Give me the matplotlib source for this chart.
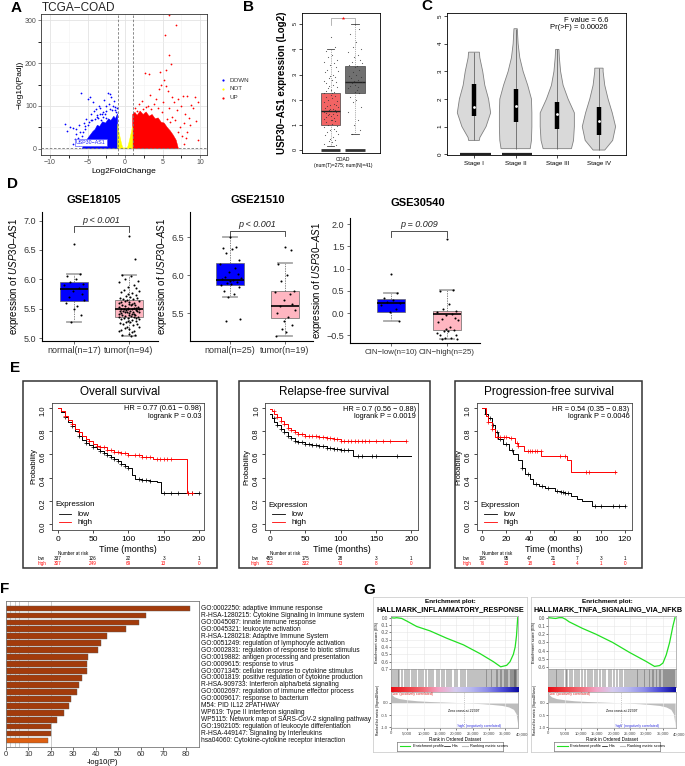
import numpy as np
import matplotlib
matplotlib.use("Agg")
import matplotlib.pyplot as plt
from matplotlib.patches import Rectangle
from matplotlib.colors import LinearSegmentedColormap
from matplotlib.transforms import blended_transform_factory as blend

plt.rcParams['font.family'] = ['Liberation Sans', 'DejaVu Sans']
plt.rcParams['axes.linewidth'] = 0.6
plt.rcParams['xtick.major.width'] = 0.5
plt.rcParams['ytick.major.width'] = 0.5
plt.rcParams['mathtext.fontset'] = 'custom'
plt.rcParams['mathtext.it'] = 'Liberation Sans:italic'
plt.rcParams['mathtext.rm'] = 'Liberation Sans'

# ======================= DATA =======================
# --- A: volcano plot (TCGA-COAD) ---
VOLC_DOWN_X = [-8.0,-7.7,-7.3,-7.0,-6.9,-6.6,-6.5,-6.3,-6.2,-6.0,-5.9,-5.8,-5.7,-5.5,-5.3,-5.2,-5.0,-4.8,-4.7,-4.5,
               -4.3,-4.1,-4.0,-3.9,-3.7,-3.5,-3.3,-3.2,-3.0,-2.9,-2.8,-2.7,-2.5,-2.5,-2.3,-2.2,-2.0,-2.0,-1.9,-1.8,
               -1.6,-1.5,-1.3,-1.2,-1.1,-5.9,-6.1,-5.6,-4.9,-4.4,-3.6,-3.4,-2.6,-1.4,-6.7,-5.4,-4.6,-3.8,-3.1,-2.1]
VOLC_DOWN_Y = [57,42,50,48,10,45,35,25,55,38,130,30,20,60,45,70,115,62,120,80,
               108,88,70,92,78,100,95,66,85,75,114,82,100,72,130,68,127,92,120,90,
               100,112,90,85,95,18,8,40,55,68,72,82,88,98,22,52,66,74,80,104]
VOLC_DOWN_CORE_X = [-1.0,-1.0,-1.3,-1.5,-1.9,-2.2,-2.6,-3.0,-3.4,-3.7,-4.0,-4.3,-4.6,-4.9,-5.2,-5.5,-5.7]
VOLC_DOWN_CORE_Y = [0,82,70,76,66,70,60,63,52,55,45,40,33,26,18,10,0]
VOLC_UP_X = [5.9,6.8,5.3,5.8,6.1,5.5,4.7,2.6,3.2,5.2,4.8,5.4,4.5,5.7,3.3,8.3,7.7,9.3,9.7,6.2,
             7.1,4.1,2.2,1.9,3.8,5.0,6.5,8.8,9.0,7.4,8.0,8.5,9.5,7.9,9.7,8.2,7.3,6.7,7.6,8.7,
             2.8,3.5,4.4,5.9,6.9,1.6,2.4,7.8,6.3,5.6,4.9,3.0,1.3,7.0,8.1,6.0]
VOLC_UP_Y = [312,288,265,220,197,185,180,178,175,160,150,147,140,135,125,122,122,120,110,120,
             115,115,112,105,105,108,110,102,95,100,82,72,65,60,20,38,50,68,30,55,
             98,92,95,95,90,88,92,12,75,70,85,100,95,40,25,62]
VOLC_UP_CORE_X = [1.0,1.0,1.3,1.6,2.0,2.4,2.8,3.2,3.6,4.0,4.4,4.8,5.2,5.6,6.0,6.4,6.8,7.1]
VOLC_UP_CORE_Y = [0,80,85,78,88,80,86,76,80,70,72,62,60,50,42,32,20,0]
VOLC_NOT_CORE_X = [-0.98,-0.98,-0.85,-0.65,-0.45,-0.3,0.3,0.45,0.65,0.85,0.98,0.98]
VOLC_NOT_CORE_Y = [0,58,42,25,10,2,2,10,25,40,52,0]
VOLC_FC_CUT = 1.0
VOLC_P_CUT = 1.3
VOLC_XTICKS = [-10, -5, 0, 5, 10]
VOLC_YTICKS = [0, 100, 200, 300]
VOLC_GENE = ("USP30\u2212AS1", -4.55, 15)
VOLC_LEGEND = ["DOWN", "NOT", "UP"]

# --- B: GEPIA box plot ---
B_GROUPS = ["Tumor", "Normal"]
B_BOX_T = [0.17, 1.00, 1.55, 2.25, 4.00]   # whislo, q1, med, q3, whishi
B_BOX_N = [0.65, 2.25, 2.72, 3.35, 5.00]
B_PTS_T = [4.5,4.1,3.95,3.8,3.7,3.6,3.5,3.45,3.4,3.3,3.2,3.15,3.1,3.0,2.95,2.9,2.85,2.8,2.75,2.7,
           2.65,2.6,2.55,2.5,2.45,2.4,2.35,2.3,2.28,2.25,2.2,2.15,2.1,2.05,2.0,1.95,1.9,1.85,1.8,1.78,
           1.75,1.7,1.68,1.65,1.62,1.6,1.58,1.55,1.52,1.5,1.48,1.45,1.42,1.4,1.38,1.35,1.3,1.28,1.25,1.2,
           1.18,1.15,1.1,1.05,1.0,0.95,0.9,0.85,0.8,0.75,0.7,0.65,0.6,0.5,0.45,0.4,0.35,0.3,0.25,0.2]
B_PTS_N = [5.0,4.8,4.6,4.3,4.1,4.0,3.9,3.8,3.7,3.6,3.5,3.45,3.4,3.35,3.3,3.2,3.1,3.0,2.95,2.9,
           2.85,2.8,2.75,2.7,2.65,2.6,2.55,2.5,2.45,2.4,2.3,2.25,2.1,2.0,1.9,1.7,1.5,1.2,1.0,0.8,0.65]
B_SIG_Y = 5.24
B_XLABEL = "COAD\n(num(T)=275; num(N)=41)"

# --- C: violin by stage ---
C_STAGES = ["Stage I", "Stage II", "Stage III", "Stage IV"]
C_VIOL_Y = [[0.5,0.6,1.0,1.5,2.0,2.5,3.0,3.5,3.7],
            [0.2,0.5,1.0,1.5,2.0,2.5,3.0,3.5,4.0,4.55],
            [0.2,0.5,1.0,1.5,2.0,2.5,3.0,3.5,3.8],
            [0.15,0.5,1.0,1.5,2.0,2.5,3.0,3.12]]
C_VIOL_W = [[0.13,0.14,0.29,0.40,0.35,0.26,0.21,0.14,0.13],
            [0.35,0.38,0.39,0.39,0.38,0.29,0.18,0.10,0.06,0.04],
            [0.34,0.39,0.41,0.41,0.26,0.14,0.08,0.05,0.04],
            [0.14,0.33,0.40,0.32,0.22,0.14,0.10,0.10]]
C_Q1 = [1.40, 1.15, 0.90, 0.70]
C_MED = [1.70, 1.75, 1.45, 1.20]
C_Q3 = [2.55, 2.35, 1.90, 1.70]
C_ZERO_STAGES = [1, 2]
C_STATS = ["F value = 6.6", "Pr(>F) = 0.00026"]

# --- D: GEO box plots ---
D_TITLES = ["GSE18105", "GSE21510", "GSE30540"]
D_XLABELS = [["normal(n=17)", "tumor(n=94)"], ["nomal(n=25)", "tumor(n=19)"],
             ["CIN\u2212low(n=10)", "CIN\u2212high(n=25)"]]
D_BOXES = [[[5.28, 5.63, 5.83, 5.95, 6.10], [5.04, 5.36, 5.50, 5.65, 6.07]],
           [[5.71, 5.88, 5.94, 6.16, 6.51], [5.20, 5.44, 5.60, 5.80, 6.16]],
           [[-0.17, 0.02, 0.22, 0.31, 0.46], [-0.58, -0.37, -0.02, 0.05, 0.52]]]
D1_NORMAL = [6.6,6.1,6.05,6.0,5.95,5.92,5.9,5.85,5.8,5.75,5.7,5.65,5.6,5.55,5.5,5.4,5.28]
D1_TUMOR = [6.73,6.35,6.07,6.05,6.0,5.98,5.95,5.9,5.88,5.85,5.82,5.8,5.79,5.77,5.75,5.74,5.72,5.7,5.69,5.68,
            5.67,5.66,5.65,5.64,5.63,5.62,5.61,5.6,5.6,5.59,5.58,5.57,5.56,5.56,5.55,5.54,5.53,5.52,5.52,5.51,
            5.5,5.5,5.5,5.49,5.49,5.48,5.48,5.47,5.47,5.46,5.46,5.45,5.45,5.44,5.44,5.43,5.43,5.42,5.42,5.41,
            5.4,5.4,5.39,5.38,5.38,5.37,5.36,5.36,5.35,5.35,5.34,5.33,5.32,5.31,5.3,5.29,5.28,5.27,5.26,5.25,
            5.24,5.22,5.2,5.19,5.18,5.16,5.15,5.13,5.12,5.1,5.08,5.06,5.05,5.04]
D2_NORMAL = [6.51,6.38,6.36,6.35,6.3,6.2,6.15,6.1,6.05,6.02,5.98,5.96,5.95,5.94,5.93,5.92,5.9,5.89,5.88,5.85,
             5.8,5.75,5.71,5.43,5.4]
D2_TUMOR = [6.37,6.33,6.15,6.0,5.93,5.8,5.78,5.75,5.68,5.62,5.6,5.55,5.5,5.45,5.4,5.35,5.3,5.25,5.2]
D3_LOW = [0.89,0.46,0.35,0.3,0.25,0.22,0.18,0.1,0.02,-0.17]
D3_HIGH = [1.67,0.52,0.5,0.2,0.1,0.05,0.02,-0.02,-0.05,-0.1,-0.12,-0.15,-0.2,-0.3,-0.35,-0.37,-0.4,-0.4,
           -0.45,-0.5,-0.5,-0.55,-0.55,-0.58,-0.58]
D_YTICKS = [[5.0, 5.5, 6.0, 6.5, 7.0], [5.5, 6.0, 6.5], [-0.5, 0.0, 0.5, 1.0, 1.5, 2.0]]
D_BRACKET_Y = [6.90, 6.59, 1.85]
D_PTEXT = ["p < 0.001", "p < 0.001", "p = 0.009"]

# --- E: Kaplan-Meier ---
OS_LOW_T = [0,5,10,15,20,25,30,35,40,45,50,55,60,65,70,75,80,85,90,95,100,105,110,120,130,140,146,200]
OS_LOW_S = [1.0,0.96,0.92,0.88,0.84,0.80,0.76,0.72,0.70,0.68,0.66,0.645,0.63,0.61,0.59,0.58,0.56,0.54,0.52,0.50,
            0.48,0.42,0.39,0.38,0.37,0.36,0.27,0.27]
OS_HIGH_T = [0,5,10,15,20,25,30,35,40,45,50,55,60,70,80,90,100,110,120,130,135,183,192]
OS_HIGH_S = [1.0,0.97,0.93,0.89,0.86,0.82,0.79,0.76,0.73,0.71,0.69,0.67,0.66,0.64,0.62,0.61,0.59,0.59,0.58,0.58,
             0.56,0.27,0.27]
OS_CENS_LOW = [10,20,30,40,50,60,65,70,75,80,85,90,95,100,115,120,125,130,150,160,170,185,190,200]
OS_CENS_HIGH = [10,20,30,45,55,60,65,70,75,80,85,90,95,100,110,115,120,125,130,140,145,150,155,160,185,190]
RFS_LOW_T = [0,3,6,10,15,20,25,30,35,40,50,60,70,80,90,100,110,118,200]
RFS_LOW_S = [0.95,0.91,0.88,0.85,0.82,0.79,0.76,0.74,0.72,0.71,0.69,0.68,0.67,0.66,0.65,0.64,0.64,0.59,0.59]
RFS_HIGH_T = [0,3,6,10,15,20,25,30,35,40,50,60,70,80,90,100,120,150,193]
RFS_HIGH_S = [0.99,0.97,0.95,0.92,0.89,0.86,0.83,0.81,0.79,0.78,0.76,0.755,0.75,0.74,0.73,0.72,0.72,0.72,0.72]
RFS_CENS_LOW = [5,10,15,20,25,30,35,40,45,50,55,60,65,70,75,80,85,90,95,100,105,110,125,130,145,150,180]
RFS_CENS_HIGH = [5,10,15,20,25,30,35,40,45,50,55,60,65,70,75,80,85,90,95,100,105,110,115,120,125,130,
                 135,140,150,160,170,193]
PFS_LOW_T = [0,2,5,8,11,13.5,17,22,26,30,33,36,40,43,48,53,61,66,70,75,80,84,92,120]
PFS_LOW_S = [1.0,0.95,0.91,0.85,0.79,0.73,0.69,0.64,0.60,0.55,0.48,0.43,0.39,0.35,0.33,0.31,0.29,0.28,0.27,
             0.24,0.22,0.20,0.16,0.16]
PFS_HIGH_T = [0,3,5,8,11,22,27.6,30,35,49.6,71,75,112.7]
PFS_HIGH_S = [1.0,0.93,0.88,0.82,0.75,0.74,0.70,0.67,0.63,0.59,0.55,0.45,0.45]
PFS_CENS_LOW = [3,6,9,12,15,20,25,33,38,45,50,55,63,66,68,70,72,95,100,110,115,120]
PFS_CENS_HIGH = [5,8,12,15,18,20,24,29,30,38,40,42,44,46,49,65,70,87,90,112]
E_TITLES = ["Overall survival", "Relapse-free survival", "Progression-free survival"]
E_HR = ["HR = 0.77 (0.61 \u2212 0.98)", "HR = 0.7 (0.56 \u2212 0.88)", "HR = 0.54 (0.35 \u2212 0.83)"]
E_P = ["logrank P = 0.03", "logrank P = 0.0019", "logrank P = 0.0046"]
E_XTICKS = [[0, 50, 100, 150, 200], [0, 50, 100, 150, 200], [0, 20, 40, 60, 80, 100, 120]]
E_RISK_LOW = [[337, 126, 22, 3, 1], [455, 175, 28, 3, 1], [195, 95, 47, 21, 7, 3, 1]]
E_RISK_HIGH = [[307, 249, 69, 13, 0], [712, 332, 73, 8, 0], [76, 33, 18, 11, 4, 1, 0]]

# --- F: enrichment bar chart ---
F_TERMS = ["GO:0002250: adaptive immune response",
           "R-HSA-1280215: Cytokine Signaling in Immune system",
           "GO:0045087: innate immune response",
           "GO:0045321: leukocyte activation",
           "R-HSA-1280218: Adaptive Immune System",
           "GO:0051249: regulation of lymphocyte activation",
           "GO:0002831: regulation of response to biotic stimulus",
           "GO:0019882: antigen processing and presentation",
           "GO:0009615: response to virus",
           "GO:0071345: cellular response to cytokine stimulus",
           "GO:0001819: positive regulation of cytokine production",
           "R-HSA-909733: Interferon alpha/beta signaling",
           "GO:0002697: regulation of immune effector process",
           "GO:0009617: response to bacterium",
           "M54: PID IL12 2PATHWAY",
           "WP619: Type II interferon signaling",
           "WP5115: Network map of SARS-CoV-2 signaling pathway",
           "GO:1902105: regulation of leukocyte differentiation",
           "R-HSA-449147: Signaling by Interleukins",
           "hsa04060: Cytokine-cytokine receptor interaction"]
F_VALUES = [82.0, 62.3, 59.3, 53.6, 45.0, 42.5, 40.8, 36.7, 36.2, 36.0,
            34.0, 32.5, 31.7, 29.0, 28.3, 26.0, 23.0, 20.3, 20.3, 18.7]
F_XTICKS = [0, 10, 20, 30, 40, 50, 60, 70, 80]
F_GRID = [2, 4, 6, 10, 20]

# --- G: GSEA ---
G_TITLES = ["HALLMARK_INFLAMMATORY_RESPONSE", "HALLMARK_TNFA_SIGNALING_VIA_NFKB"]
G1_ES_X = [0,1000,1735,3265,5000,7860,11940,17040,22140,27240,31330,33570,35400,36430,37450,38000,38400,38780]
G1_ES_Y = [0.0,-0.005,0.0,-0.01,-0.05,-0.12,-0.18,-0.28,-0.37,-0.49,-0.60,-0.67,-0.65,-0.60,-0.50,-0.40,-0.25,0.0]
G2_ES_X = [0,1200,2250,3300,4300,5300,6360,10460,14560,19690,24820,29950,32510,34050,35080,36100,37130,38150,38780]
G2_ES_Y = [0.0,-0.005,-0.01,0.0,0.0,-0.02,-0.05,-0.13,-0.20,-0.30,-0.42,-0.53,-0.59,-0.58,-0.55,-0.45,-0.30,-0.10,0.0]
G1_HITS = [300,900,1500,2100,2600,3400,4200,4900,5500,6300,7000,7600,8500,9200,9900,10700,11500,12100,13000,
           14000,14600,15500,16200,17100,17800,18400,19500,20200,21300,22000,22800,23500,24100,24800,25400,
           26000,26700,27300,27900,28400,29000,29500,30100,30600,31000,31500,32000,32400,32900,33300,33700,
           34100,34500,34900,35200,35600,35900,36300,36600,36900,37200,37500,37800,38100,38400,38700]
G2_HITS = [500,1200,1700,2300,2700,3300,3900,4600,5300,5800,6600,7300,8200,8800,9500,10400,11200,12000,12800,
           13500,14300,15000,15800,16600,17500,18500,19300,20100,21000,21800,22600,23400,24000,24600,25200,
           25800,26400,27000,27500,28100,28600,29200,29700,30200,30700,31200,31600,32100,32500,33000,33400,
           33800,34200,34600,35000,35300,35700,36000,36400,36700,37000,37300,37600,37900,38200,38500,38700]
G_RANK_X = [0,300,1000,2500,5000,8000,12000,16000,20000,22397,25000,28000,31000,34000,36000,37500,38300,38700,38800]
G_RANK_Y = [0.45,0.32,0.24,0.17,0.12,0.08,0.05,0.03,0.01,0.0,-0.02,-0.04,-0.07,-0.11,-0.17,-0.27,-0.45,-0.8,-1.0]
G_ZERO_CROSS = 22397
G_ES_TICKS = [[0.0,-0.1,-0.2,-0.3,-0.4,-0.5,-0.6,-0.7], [0.0,-0.1,-0.2,-0.3,-0.4,-0.5,-0.6]]
G_ES_LIM = [(-0.704, 0.023), (-0.625, 0.02)]
G_XTICKS = [0, 5000, 10000, 15000, 20000, 25000, 30000, 35000]

# ======================= STYLE HELPERS =======================
W, H = 685, 766
fig = plt.figure(figsize=(W / 100, H / 100), dpi=100)
fig.patch.set_facecolor("white")
JIT = [0.00,0.55,-0.62,0.21,-0.33,0.84,-0.91,0.42,-0.12,0.68,-0.47,0.95,-0.76,0.30,-0.05,0.60,-0.25,0.12,
       -0.85,0.77,-0.58,0.38,-0.18,0.90,-0.40,0.05,-0.70,0.48,-0.95,0.25]


def axp(l, t, r, b, **kw):
    return fig.add_axes([l / W, 1 - b / H, (r - l) / W, (b - t) / H], **kw)


def ftext(x, y, s, **kw):
    kw.setdefault("va", "center")
    return fig.text(x / W, 1 - y / H, s, **kw)


def frame(l, t, r, b, ec="#333333", lw=1.0):
    fig.patches.append(Rectangle((l / W, 1 - b / H), (r - l) / W, (b - t) / H,
                                 transform=fig.transFigure, fill=False, ec=ec, lw=lw))


def jitter(vals, pos, width):
    return [pos + JIT[i % len(JIT)] * width for i in range(len(vals))]


def bstats(b):
    return dict(whislo=b[0], q1=b[1], med=b[2], q3=b[3], whishi=b[4], fliers=[])


# panel letters
for lab, x, y in [("A", 16, 8), ("B", 248, 7), ("C", 427, 6), ("D", 13, 184),
                  ("E", 15, 368), ("F", 5, 589), ("G", 369, 590)]:
    ftext(x, y, lab, ha="center", fontsize=11, fontweight="bold")

# ======================= A =======================
ax = axp(41, 14, 207, 155)
ax.set_xlim(-11.2, 10.9)
ax.set_ylim(-14.7, 314.7)
ax.set_xticks(VOLC_XTICKS)
ax.set_yticks(VOLC_YTICKS)
ax.set_xticks([-7.5, -2.5, 2.5, 7.5], minor=True)
ax.set_yticks([50, 150, 250], minor=True)
ax.grid(which="major", color="#E3E3E3", lw=0.6)
ax.grid(which="minor", color="#F1F1F1", lw=0.4)
ax.set_axisbelow(True)
ax.fill(VOLC_DOWN_CORE_X, VOLC_DOWN_CORE_Y, color="#0000FF", lw=0.3, ec="#0000FF")
ax.fill(VOLC_UP_CORE_X, VOLC_UP_CORE_Y, color="#FF0000", lw=0.3, ec="#FF0000")
ax.fill(VOLC_NOT_CORE_X, VOLC_NOT_CORE_Y, color="#FFFF00", lw=0.3, ec="#FFFF00", zorder=3)
ax.scatter(VOLC_DOWN_X, VOLC_DOWN_Y, s=1.6, c="#0000FF", lw=0)
ax.scatter(VOLC_UP_X, VOLC_UP_Y, s=1.6, c="#FF0000", lw=0)
for xv in (-VOLC_FC_CUT, VOLC_FC_CUT):
    ax.axvline(xv, ls="--", color="#777777", lw=0.6, dashes=(3, 2), zorder=4)
ax.axhline(VOLC_P_CUT, ls="--", color="#777777", lw=0.6, dashes=(3, 2), zorder=4)
ax.text(VOLC_GENE[1], VOLC_GENE[2], VOLC_GENE[0], fontsize=3.8, color="#2020FF", ha="center", va="center",
        zorder=5, bbox=dict(boxstyle="square,pad=0.2", fc="white", ec="#4040FF", lw=0.4))
ax.tick_params(labelsize=5, colors="#4D4D4D", length=2, pad=1)
ax.set_xlabel("Log2FoldChange", fontsize=6, labelpad=1)
ax.set_ylabel("\u2212log10(Padj)", fontsize=6, labelpad=1)
for s in ax.spines.values():
    s.set_color("#333333")
ftext(42, 8, "TCGA\u2212COAD", fontsize=8.5, color="#222222", ha="left")
axl = axp(218, 76, 255, 102)
axl.set_xlim(0, 1)
axl.set_ylim(3.5, 0.5)
axl.axis("off")
for i, (lab, col) in enumerate(zip(VOLC_LEGEND, ["#0000FF", "#FFFF00", "#FF0000"])):
    axl.scatter([0.14], [i + 1], s=2.5, c=col, lw=0)
    axl.text(0.32, i + 1, lab, fontsize=4.5, va="center", color="#333333")

# ======================= B =======================
ax = axp(301.7, 13.3, 380, 153)
ax.set_xlim(-0.19, 3.03)
ax.set_ylim(-0.12, 5.44)
bp = ax.bxp([bstats(B_BOX_T), bstats(B_BOX_N)], positions=[1, 2], widths=0.8, patch_artist=True,
            manage_ticks=False, capwidths=0.3,
            medianprops=dict(color="#222222", lw=1.0),
            whiskerprops=dict(color="#666666", lw=0.5, ls=":"),
            capprops=dict(color="#444444", lw=0.6),
            boxprops=dict(lw=0.5, edgecolor="#444444"))
bp["boxes"][0].set_facecolor("#F26464")
bp["boxes"][1].set_facecolor("#707070")
ax.scatter(jitter(B_PTS_T, 1, 0.3), B_PTS_T, s=0.7, c="#333333", lw=0, alpha=0.8, zorder=3)
ax.scatter(jitter(B_PTS_N, 2, 0.3), B_PTS_N, s=0.7, c="#333333", lw=0, alpha=0.8, zorder=3)
for p in (1, 2):
    ax.hlines(0, p - 0.4, p + 0.4, color="#333333", lw=2.0, zorder=4)
ax.plot([1, 1, 2, 2], [4.97, B_SIG_Y, B_SIG_Y, 4.97], color="#999999", lw=0.5)
ax.scatter([1.5], [B_SIG_Y + 0.02], marker="*", s=7, c="red", lw=0, zorder=5)
ax.set_yticks([0, 1, 2, 3, 4, 5])
ax.set_xticks([1.5])
ax.set_xticklabels([B_XLABEL], fontsize=3.6)
ax.tick_params(axis="y", labelsize=4, rotation=90, length=2, pad=1)
ax.tick_params(axis="x", length=0, pad=3)
ax.set_ylabel("USP30\u2212AS1 expression (Log2)", fontsize=7, fontweight="bold", labelpad=4)

# ======================= C =======================
ax = axp(446.7, 13, 626, 155)
ax.set_xlim(0.345, 4.65)
ax.set_ylim(-0.03, 5.12)
for i in range(4):
    pos = i + 1
    ys = C_VIOL_Y[i]
    ws = C_VIOL_W[i]
    px = [pos - w for w in ws] + [pos + w for w in ws[::-1]]
    py = list(ys) + list(ys[::-1])
    ax.fill(px, py, fc="#D9D9D9", ec="#808080", lw=0.6, zorder=2)
    ax.vlines(pos, ys[0], ys[-1], color="#666666", lw=0.6, zorder=3)
    ax.vlines(pos, C_Q1[i], C_Q3[i], color="black", lw=3.2, zorder=4)
    ax.scatter([pos], [C_MED[i]], s=4, c="white", lw=0, zorder=5)
for p in C_ZERO_STAGES:
    ax.hlines(0, p - 0.33, p + 0.4, color="#222222", lw=1.6, zorder=4)
ax.set_xticks(range(1, 5))
ax.set_xticklabels(C_STAGES, fontsize=4.5)
ax.set_yticks(range(0, 6))
ax.tick_params(axis="y", labelsize=4.5, rotation=90, length=2, pad=1)
ax.tick_params(axis="x", length=2, pad=2)
ax.text(0.9, 0.975, C_STATS[0], transform=ax.transAxes, ha="right", va="top", fontsize=5.5)
ax.text(0.9, 0.92, C_STATS[1], transform=ax.transAxes, ha="right", va="top", fontsize=5.5)

# ======================= D =======================
D_AX = [(41.7, 211.7, 158, 340.7, (0.41, 2.53), (4.96, 7.15)),
        (190, 211.7, 313, 340.7, (0.27, 2.51), (5.14, 6.84)),
        (350, 218, 480, 343, (0.27, 2.59), (-0.67, 2.14))]
D_TITLE_POS = [(94, 200), (258, 200), (418, 203)]
D_PTS = [[D1_NORMAL, D1_TUMOR], [D2_NORMAL, D2_TUMOR], [D3_LOW, D3_HIGH]]
D_XFS = [6.5, 6.5, 5.7]
for k in range(3):
    l, t, r, b, xl, yl = D_AX[k]
    ax = axp(l, t, r, b)
    ax.set_xlim(*xl)
    ax.set_ylim(*yl)
    bp = ax.bxp([bstats(D_BOXES[k][0]), bstats(D_BOXES[k][1])], positions=[1, 2], widths=0.51,
                patch_artist=True, manage_ticks=False, capwidths=0.26,
                medianprops=dict(color="black", lw=1.2),
                whiskerprops=dict(color="#555555", lw=0.5, ls=(0, (2, 1.5))),
                capprops=dict(color="#A8A8A8", lw=1.3),
                boxprops=dict(lw=0.5, edgecolor="#666666"))
    bp["boxes"][0].set_facecolor("#0000FF")
    bp["boxes"][1].set_facecolor("#FFB6C1")
    for g in range(2):
        vals = D_PTS[k][g]
        ax.scatter(jitter(vals, g + 1, 0.2), vals, s=2.2, c="black", lw=0, zorder=4)
    by = D_BRACKET_Y[k]
    drop = (yl[1] - yl[0]) * 0.045
    ax.plot([1, 1, 2, 2], [by - drop, by, by, by - drop], color="#333333", lw=0.6)
    ax.text(1.5, by + drop * 0.25, D_PTEXT[k], ha="center", va="bottom", fontsize=6.5, style="italic",
            color="#222222")
    ax.spines["top"].set_visible(False)
    ax.spines["right"].set_visible(False)
    ax.spines["left"].set_linewidth(0.8)
    ax.spines["bottom"].set_linewidth(0.8)
    ax.set_yticks(D_YTICKS[k])
    ax.set_xticks([1, 2])
    ax.set_xticklabels(D_XLABELS[k], fontsize=D_XFS[k])
    ax.tick_params(axis="y", labelsize=6.5, colors="#333333", length=2.5, pad=1.5)
    ax.tick_params(axis="x", colors="#333333", length=2.5, pad=1.5)
    ax.set_ylabel("expression of $\\mathit{USP30\u2013AS1}$", fontsize=7, labelpad=2)
    ftext(D_TITLE_POS[k][0], D_TITLE_POS[k][1], D_TITLES[k], ha="center", fontsize=8, fontweight="bold")

# ======================= E =======================
E_FRAMES = [(23, 380.7, 217.3, 568), (239, 380.7, 430, 568), (455, 380.7, 642, 568)]
E_AXES = [(51.7, 403, 204, 530, (-8.5, 207.1)),
          (265, 403.3, 418.3, 530, (-7.06, 209.8)),
          (476.7, 403.3, 631.7, 530, (-4.82, 125.8))]
E_LOW = [(OS_LOW_T, OS_LOW_S, OS_CENS_LOW), (RFS_LOW_T, RFS_LOW_S, RFS_CENS_LOW),
         (PFS_LOW_T, PFS_LOW_S, PFS_CENS_LOW)]
E_HIGH = [(OS_HIGH_T, OS_HIGH_S, OS_CENS_HIGH), (RFS_HIGH_T, RFS_HIGH_S, RFS_CENS_HIGH),
          (PFS_HIGH_T, PFS_HIGH_S, PFS_CENS_HIGH)]


def step_at(tc, ts, ss):
    idx = np.searchsorted(np.asarray(ts), np.asarray(tc), side="right") - 1
    return np.asarray(ss)[np.clip(idx, 0, len(ss) - 1)]


for k in range(3):
    fl, ft, fr, fb = E_FRAMES[k]
    frame(fl, ft, fr, fb, ec="#333333", lw=1.1)
    ftext((fl + fr) / 2, 391.7, E_TITLES[k], ha="center", fontsize=8.5)
    l, t, r, b, xl = E_AXES[k]
    ax = axp(l, t, r, b)
    ax.set_xlim(*xl)
    ax.set_ylim(-0.049, 1.04)
    for (ts, ss, cs), col in [(E_LOW[k], "black"), (E_HIGH[k], "red")]:
        ax.step(ts, ss, where="post", color=col, lw=0.7)
        ax.plot(cs, step_at(cs, ts, ss), ls="none", marker="+", ms=2.6, mew=0.5, color=col)
    ax.set_xticks(E_XTICKS[k])
    ax.set_yticks([0, 0.2, 0.4, 0.6, 0.8, 1.0])
    ax.set_yticklabels(["0.0", "0.2", "0.4", "0.6", "0.8", "1.0"])
    ax.tick_params(axis="y", labelsize=5.5, rotation=90, length=2.5, pad=1)
    ax.tick_params(axis="x", labelsize=6, length=2.5, pad=1.5)
    for s in ax.spines.values():
        s.set_color("#444444")
    ax.set_xlabel("Time (months)", fontsize=6.5, labelpad=2)
    ax.set_ylabel("Probability", fontsize=5.5, labelpad=2)
    ax.text(0.985, 0.955, E_HR[k], transform=ax.transAxes, ha="right", va="center", fontsize=5.3)
    ax.text(0.985, 0.895, E_P[k], transform=ax.transAxes, ha="right", va="center", fontsize=5.3)
    ax.text(0.022, 0.197, "Expression", transform=ax.transAxes, fontsize=5.8, va="center")
    ax.plot([0.045, 0.13], [0.124, 0.124], transform=ax.transAxes, color="black", lw=0.6)
    ax.plot([0.045, 0.13], [0.062, 0.062], transform=ax.transAxes, color="red", lw=0.6)
    ax.text(0.17, 0.124, "low", transform=ax.transAxes, fontsize=5.8, va="center")
    ax.text(0.17, 0.062, "high", transform=ax.transAxes, fontsize=5.8, va="center")
    tr = blend(ax.transData, fig.transFigure)
    ax.text(E_XTICKS[k][0], 1 - 553.3 / H, "Number at risk", transform=tr, fontsize=3.3, va="center",
            ha="left", clip_on=False)
    ftext(l - 10, 558.6, "low", fontsize=3.3, ha="center")
    ftext(l - 10, 563.3, "high", fontsize=3.3, ha="center", color="red")
    for tv, nl, nh in zip(E_XTICKS[k], E_RISK_LOW[k], E_RISK_HIGH[k]):
        ax.text(tv, 1 - 558.6 / H, str(nl), transform=tr, fontsize=3.3, ha="center", va="center", clip_on=False)
        ax.text(tv, 1 - 563.3 / H, str(nh), transform=tr, fontsize=3.3, ha="center", va="center",
                color="red", clip_on=False)

# ======================= F =======================
ax = axp(5.7, 600.7, 199.3, 746.7)
n = len(F_VALUES)
ypos = np.arange(n)
cols = ["#A33B0B"] * (n - 1) + ["#DE6012"]
for gx in F_GRID:
    ax.axvline(gx, color="#BBBBBB", lw=0.5, zorder=0)
ax.barh(ypos, F_VALUES, height=0.78, color=cols, edgecolor="#5A5A5A", lw=0.3, zorder=2)
ax.set_ylim(n - 1 + 0.86, -1.09)
ax.set_xlim(0, 86)
ax.set_yticks([])
ax.set_xticks(F_XTICKS)
ax.tick_params(axis="x", labelsize=5.5, length=2, pad=1, colors="#333333")
ax.set_xlabel("-log10(P)", fontsize=5.5, labelpad=1)
for s in ax.spines.values():
    s.set_color("#777777")
trf = blend(ax.transAxes, ax.transData)
for yi, term in zip(ypos, F_TERMS):
    ax.text(1.01, yi, term, transform=trf, fontsize=4.8, va="center", ha="left", clip_on=False,
            color="#111111")

# ======================= G =======================
G_CMAP = LinearSegmentedColormap.from_list(
    "gsea", ["#E80C14", "#EE3A40", "#F26A76", "#F2A4C6", "#D6CCEE", "#B8B8F0", "#8E8EEA", "#4A4AD8", "#0A0AA0"])
G_ES = [(G1_ES_X, G1_ES_Y, G1_HITS), (G2_ES_X, G2_ES_Y, G2_HITS)]
G_XMAX = 38960
for k, dx in enumerate([0, 157.3]):
    bg = axp(373.3 + dx, 597.3, 527.3 + dx, 751.7)
    bg.set_xticks([])
    bg.set_yticks([])
    bg.set_facecolor("white")
    for s in bg.spines.values():
        s.set_color("#CFCFCF")
        s.set_linewidth(0.6)
    ftext(450.3 + dx, 601.7, "Enrichment plot:", ha="center", fontsize=4.6, fontweight="bold")
    ftext(450.3 + dx, 609.3, G_TITLES[k], ha="center", fontsize=5.2, fontweight="bold")
    L, R = 391 + dx, 518.3 + dx
    es_x, es_y, hits = G_ES[k]
    a1 = axp(L, 616, R, 669.3)
    a1.set_xlim(0, G_XMAX)
    a1.set_ylim(*G_ES_LIM[k])
    a1.plot(es_x, es_y, color="#22E022", lw=0.9)
    a1.set_yticks(G_ES_TICKS[k])
    a1.set_yticklabels(["%.1f" % v for v in G_ES_TICKS[k]])
    a1.set_xticks(G_XTICKS)
    a1.grid(color="#E6E6E6", lw=0.4)
    a1.tick_params(labelsize=3.3, length=1.2, pad=0.8, labelbottom=False, colors="#444444")
    a1.set_ylabel("Enrichment score (ES)", fontsize=3.0, labelpad=1)
    a2 = axp(L, 669.3, R, 687.3)
    a2.set_xlim(0, G_XMAX)
    a2.set_ylim(0, 1)
    a2.vlines(hits, 0, 1, color="black", lw=0.35)
    a2.set_xticks([])
    a2.set_yticks([])
    a3 = axp(L, 687.3, R, 691.7)
    a3.imshow(np.linspace(0, 1, 256)[None, :], aspect="auto", cmap=G_CMAP, extent=(0, G_XMAX, 0, 1))
    a3.set_xticks([])
    a3.set_yticks([])
    for s in a3.spines.values():
        s.set_visible(False)
    a4 = axp(L, 691.7, R, 728.3)
    a4.set_xlim(0, G_XMAX)
    a4.set_ylim(-1.04, 0.45)
    a4.fill_between(G_RANK_X, G_RANK_Y, 0, color="#BDBDBD", lw=0)
    a4.axvline(G_ZERO_CROSS, color="#999999", ls=":", lw=0.5)
    a4.set_yticks([0.0, -0.5, -1.0])
    a4.set_yticklabels(["0.0", "-0.5", "-1.0"])
    a4.set_xticks(G_XTICKS)
    a4.set_xticklabels(["0", "5,000", "10,000", "15,000", "20,000", "25,000", "30,000", "35,000"])
    a4.grid(color="#EEEEEE", lw=0.4)
    a4.tick_params(labelsize=3.0, length=1.2, pad=0.8, colors="#444444")
    a4.text(40000, -0.12, "40,000", transform=blend(a4.transData, a4.transAxes), fontsize=3.0,
            ha="center", va="top", color="#444444", clip_on=False)
    a4.set_xlabel("Rank in Ordered Dataset", fontsize=3.3, labelpad=1.5)
    a4.set_ylabel("Ranked list metric (Signal2Noise)", fontsize=2.4, labelpad=1)
    a4.text(300, 0.36, "'low' (positively correlated)", fontsize=2.5, color="#E02020", va="center")
    a4.text(G_ZERO_CROSS, -0.32, "Zero cross at %d" % G_ZERO_CROSS, fontsize=2.5, ha="center", va="center")
    a4.text(27000, -0.93, "'high' (negatively correlated)", fontsize=2.5, color="#3030E0",
            ha="center", va="center")
    for a in (a1, a2, a4):
        for s in a.spines.values():
            s.set_color("#9A9A9A")
            s.set_linewidth(0.5)
    lg = axp(396.7 + dx, 741.5, 502.7 + dx, 750.5)
    lg.set_xlim(0, 1)
    lg.set_ylim(0, 1)
    lg.set_xticks([])
    lg.set_yticks([])
    for s in lg.spines.values():
        s.set_color("#777777")
        s.set_linewidth(0.5)
    lg.plot([0.03, 0.13], [0.5, 0.5], color="#22E022", lw=0.8)
    lg.text(0.15, 0.5, "Enrichment profile", fontsize=2.8, va="center")
    lg.plot([0.45, 0.5], [0.5, 0.5], color="black", lw=0.5)
    lg.text(0.52, 0.5, "Hits", fontsize=2.8, va="center")
    lg.plot([0.62, 0.67], [0.5, 0.5], color="#BBBBBB", lw=0.8)
    lg.text(0.69, 0.5, "Ranking metric scores", fontsize=2.8, va="center")

fig.savefig("out.png", dpi=100, facecolor="white")
